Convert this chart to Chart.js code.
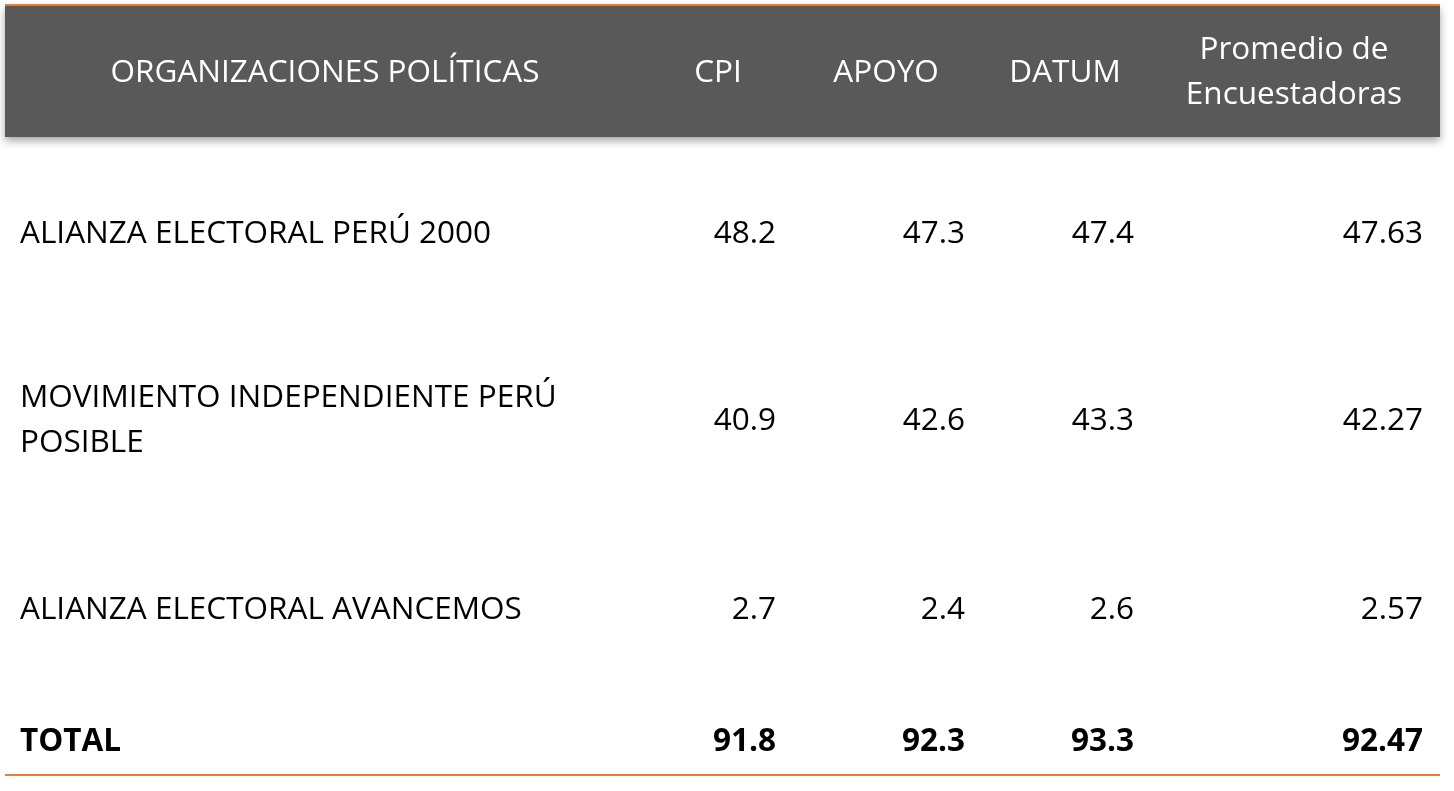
<!DOCTYPE html>
<html><head><meta charset="utf-8">
<script src="https://cdn.jsdelivr.net/npm/chart.js@4"></script>
<style>html,body{margin:0;padding:0;background:#fff;overflow:hidden}#wrap{width:1454px;height:791px}</style>
</head><body><div id="wrap"><canvas id="c"></canvas></div>
<script>
// table content
const headers = ['ORGANIZACIONES POLÍTICAS', 'CPI', 'APOYO', 'DATUM', 'Promedio de\nEncuestadoras'];
const parties = ['ALIANZA ELECTORAL PERÚ 2000', 'MOVIMIENTO INDEPENDIENTE PERÚ\nPOSIBLE', 'ALIANZA ELECTORAL AVANCEMOS'];
const cpi = [48.2, 40.9, 2.7];
const apoyo = [47.3, 42.6, 2.4];
const datum = [47.4, 43.3, 2.6];
const promedio = ['47.63', '42.27', '2.57'];
const totals = ['91.8', '92.3', '93.3', '92.47'];

// layout (page units on the hidden linear scales)
const rowY = [73, 234, 421, 610, 742];
const colRight = [null, 776, 965, 1134, 1423];
const headCenter = [325, 718, 886, 1065, 1294];
const FONT = "'Open Sans', 'Noto Sans', sans-serif";
const SIZE = 31.5;

const tablePlugin = {
  id: 'table',
  afterDraw(chart) {
    const ctx = chart.ctx, x = chart.scales.x, y = chart.scales.y;
    const X = v => x.getPixelForValue(v), Y = v => y.getPixelForValue(v);
    ctx.save();
    // header band with shadow
    ctx.shadowColor = 'rgba(0,0,0,0.35)'; ctx.shadowBlur = 8; ctx.shadowOffsetY = 4;
    ctx.fillStyle = '#595959';
    ctx.fillRect(X(5), Y(5), X(1440) - X(5), Y(137) - Y(5));
    ctx.shadowColor = 'transparent';
    ctx.fillStyle = '#ed7d31';
    ctx.fillRect(X(5), Y(4), X(1440) - X(5), 2);
    ctx.fillRect(X(5), Y(774), X(1440) - X(5), 2);

    ctx.textBaseline = 'middle';
    ctx.fillStyle = '#ffffff';
    ctx.font = SIZE + 'px ' + FONT;
    ctx.textAlign = 'center';
    headers.forEach((h, i) => {
      const lines = h.split('\n');
      lines.forEach((ln, k) => ctx.fillText(ln, X(headCenter[i]), Y(rowY[0] + (k - (lines.length - 1) / 2) * 45)));
    });

    ctx.fillStyle = '#000000';
    parties.forEach((p, r) => {
      const yy = rowY[r + 1];
      ctx.textAlign = 'left';
      const lines = p.split('\n');
      lines.forEach((ln, k) => ctx.fillText(ln, X(20), Y(yy + (k - (lines.length - 1) / 2) * 45)));
      ctx.textAlign = 'right';
      [cpi[r].toFixed(1), apoyo[r].toFixed(1), datum[r].toFixed(1), promedio[r]].forEach((v, c) =>
        ctx.fillText(v, X(colRight[c + 1]), Y(yy)));
    });
    ctx.font = 'bold ' + SIZE + 'px ' + FONT;
    ctx.textAlign = 'left';
    ctx.fillText('TOTAL', X(20), Y(rowY[4]));
    ctx.textAlign = 'right';
    totals.forEach((v, c) => ctx.fillText(v, X(colRight[c + 1]), Y(rowY[4])));
    ctx.restore();
  }
};

new Chart(document.getElementById('c'), {
  type: 'scatter',
  data: { datasets: [{ data: [], pointRadius: 0 }] },
  options: {
    responsive: true, maintainAspectRatio: false, animation: false,
    layout: { padding: 0 },
    plugins: { legend: { display: false }, tooltip: { enabled: false } },
    scales: {
      x: { type: 'linear', min: 0, max: 1454, display: false },
      y: { type: 'linear', min: 0, max: 791, reverse: true, display: false }
    }
  },
  plugins: [tablePlugin]
});
</script></body></html>
